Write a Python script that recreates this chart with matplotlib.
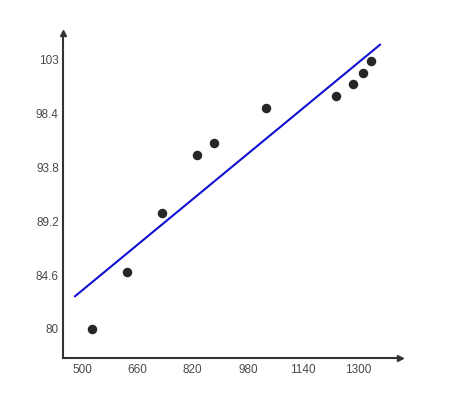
import matplotlib
matplotlib.use("Agg")
from matplotlib import pyplot as plt
import numpy as np

# values
xs = [528, 628, 730, 831, 882, 1033, 1235, 1286, 1315, 1337]
ys = [80, 84.9, 89.9, 94.9, 95.9, 98.9, 99.9, 100.9, 101.9, 102.9]
line_x = [478, 1364]
line_y = [82.8, 104.3]
xticks = [500, 660, 820, 980, 1140, 1300]
yticks = [80, 84.6, 89.2, 93.8, 98.4, 103]
ytick_labels = ["80", "84.6", "89.2", "93.8", "98.4", "103"]

plt.rcParams['font.family'] = ['Liberation Sans', 'DejaVu Sans']

fig = plt.figure(figsize=(4.74, 4.0), dpi=100)
ax = fig.add_axes([0.1329, 0.105, 0.711, 0.8125])

ax.plot(line_x, line_y, color="#1010d0", lw=1.5, zorder=2)
ax.scatter(xs, ys, s=34, color="#262626", zorder=3)

ax.set_xlim(443, 1422)
ax.set_ylim(77.52, 105.3)
ax.set_xticks(xticks)
ax.set_yticks(yticks)
ax.set_yticklabels(ytick_labels)
ax.tick_params(length=0, labelsize=8.5, colors="#4a4a4a", pad=3)
ax.tick_params(axis="x", pad=4)

for s in ["top", "right"]:
  ax.spines[s].set_visible(False)
for s in ["left", "bottom"]:
  ax.spines[s].set_color("#333333")
  ax.spines[s].set_linewidth(1.5)

# arrow heads
ax.plot(1, 0, ">", color="#333333", ms=4.5, transform=ax.transAxes, clip_on=False)
ax.plot(0, 1, "^", color="#333333", ms=4.5, transform=ax.transAxes, clip_on=False)

plt.savefig("out.png", dpi=100)
